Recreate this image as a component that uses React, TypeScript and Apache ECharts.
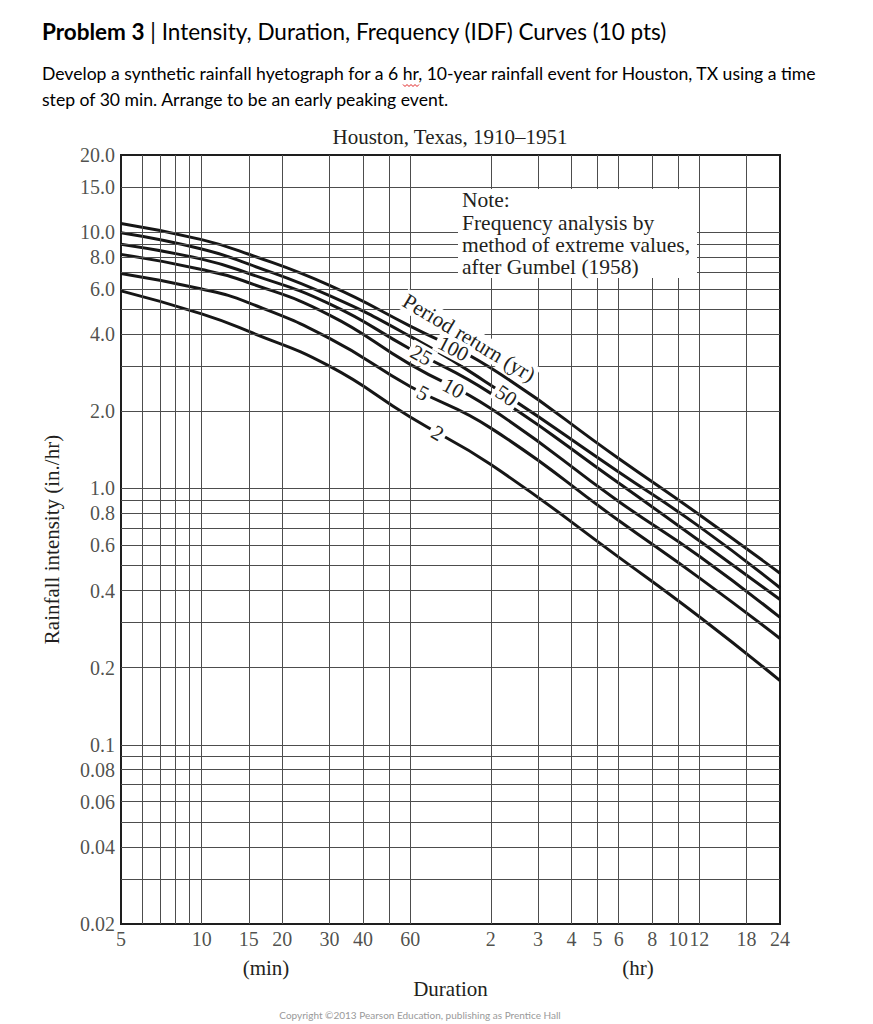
import React, { useEffect, useRef } from 'react';
import * as echarts from 'echarts';

// ---- data (durations in minutes, intensities in in./hr) ----
const durations = [5, 10, 15, 30, 60, 120, 360, 720, 1440];
const returnPeriods = ['2', '5', '10', '25', '50', '100'];
const intensity2 = [5.9, 4.8, 4.1, 3.0, 1.9, 1.24, 0.54, 0.316, 0.178];
const intensity5 = [6.9, 6.0, 5.3, 3.85, 2.5, 1.72, 0.75, 0.448, 0.26];
const intensity10 = [8.19, 7.15, 6.35, 4.75, 3.05, 2.05, 0.89, 0.544, 0.314];
const intensity25 = [8.98, 7.85, 6.9, 5.25, 3.5, 2.35, 1.05, 0.625, 0.369];
const intensity50 = [9.95, 8.6, 7.5, 5.65, 3.92, 2.53, 1.16, 0.71, 0.41];
const intensity100 = [10.8, 9.35, 8.2, 6.2, 4.3, 2.95, 1.31, 0.79, 0.467];
const allIntensities = [intensity2, intensity5, intensity10, intensity25, intensity50, intensity100];

// duration (min) along each curve where its return-period label sits
const curveLabelAt = [76, 67, 87, 66, 137, 87];

const xTickValues = [5, 10, 15, 20, 30, 40, 60, 120, 180, 240, 300, 360, 480, 600, 720, 1080, 1440];
const xTickLabels = ['5', '10', '15', '20', '30', '40', '60', '2', '3', '4', '5', '6', '8', '10', '12', '18', '24'];
const yTickValues = [20, 15, 10, 8, 6, 4, 2, 1, 0.8, 0.6, 0.4, 0.2, 0.1, 0.08, 0.06, 0.04, 0.02];
const yTickLabels = ['20.0', '15.0', '10.0', '8.0', '6.0', '4.0', '2.0', '1.0', '0.8', '0.6', '0.4', '0.2', '0.1', '0.08', '0.06', '0.04', '0.02'];
const xGridValues = [6, 7, 8, 9, 10, 15, 20, 30, 40, 50, 60, 120, 180, 240, 300, 360, 480, 600, 720, 1080];
const yGridValues = [15, 10, 9, 8, 7, 6, 5, 4, 3, 2, 1, 0.9, 0.8, 0.7, 0.6, 0.5, 0.4, 0.3, 0.2, 0.1, 0.09, 0.08, 0.07, 0.06, 0.05, 0.04, 0.03];

const X_MIN = 5;
const X_MAX = 1440;
const Y_MIN = 0.02;
const Y_MAX = 20;

const SERIF = '"Liberation Serif", "Times New Roman", serif';
const SANS = 'Lato, "Liberation Sans", sans-serif';
const INK = '#231f20';

function valueAt(vals: number[], d: number): number {
  for (let i = 0; i < durations.length - 1; i++) {
    if (d >= durations[i] && d <= durations[i + 1]) {
      const t = Math.log(d / durations[i]) / Math.log(durations[i + 1] / durations[i]);
      return Math.exp(Math.log(vals[i]) + t * (Math.log(vals[i + 1]) - Math.log(vals[i])));
    }
  }
  return vals[vals.length - 1];
}

export default function App() {
  const ref = useRef<HTMLDivElement>(null);

  useEffect(() => {
    if (!ref.current) return;
    const chart = echarts.init(ref.current, null, { renderer: 'svg' });

    const curveSeries = allIntensities.map((vals, i) => ({
      name: returnPeriods[i] + '-yr',
      type: 'line',
      data: durations.map((d, j) => [d, vals[j]]),
      showSymbol: false,
      smooth: 0.5,
      lineStyle: { color: '#161616', width: 3 },
      z: 3,
      silent: true,
    }));

    const option: any = {
      animation: false,
      backgroundColor: '#ffffff',
      textStyle: { fontFamily: SERIF },
      grid: {
        left: 121,
        right: 93,
        top: 155,
        bottom: 100,
        show: true,
        borderColor: '#1e1e1e',
        borderWidth: 2,
        backgroundColor: 'transparent',
        containLabel: false,
        outerBoundsMode: 'none',
      },
      xAxis: {
        type: 'log',
        logBase: 10,
        min: X_MIN,
        max: X_MAX,
        name: 'Duration',
        nameLocation: 'middle',
        nameGap: 54,
        nameTextStyle: { fontSize: 21, color: INK, fontFamily: SERIF },
        axisLine: { show: false },
        axisTick: { show: false },
        axisLabel: { show: false },
        splitLine: { show: false },
      },
      yAxis: {
        type: 'log',
        logBase: 10,
        min: Y_MIN,
        max: Y_MAX,
        name: 'Rainfall intensity (in./hr)',
        nameLocation: 'middle',
        nameGap: 59,
        nameRotate: 90,
        nameTextStyle: { fontSize: 21, color: INK, fontFamily: SERIF },
        axisLine: { show: false },
        axisTick: { show: false },
        axisLabel: { show: false },
        splitLine: { show: false },
      },
      series: [
        {
          name: 'grid',
          type: 'line',
          data: [],
          z: 1,
          silent: true,
          markLine: {
            silent: true,
            symbol: ['none', 'none'],
            animation: false,
            label: { show: false },
            emphasis: { disabled: true },
            lineStyle: { color: '#4d4d4d', width: 1, type: 'solid' },
            data: [
              ...xGridValues.map((v) => ({ xAxis: v })),
              ...yGridValues.map((v) => ({ yAxis: v })),
            ],
          },
        },
        ...curveSeries,
        {
          name: 'xTicks',
          type: 'scatter',
          data: xTickValues.map((v) => [v, Y_MIN]),
          symbolSize: 0,
          clip: false,
          silent: true,
          z: 5,
          itemStyle: { color: 'transparent' },
          label: {
            show: true,
            position: 'bottom',
            distance: 5,
            fontFamily: SERIF,
            fontSize: 20,
            color: INK,
            formatter: (p: any) => xTickLabels[p.dataIndex],
          },
        },
        {
          name: 'yTicks',
          type: 'scatter',
          data: yTickValues.map((v) => [X_MIN, v]),
          symbolSize: 0,
          clip: false,
          silent: true,
          z: 5,
          itemStyle: { color: 'transparent' },
          label: {
            show: true,
            position: 'left',
            distance: 6,
            fontFamily: SERIF,
            fontSize: 20,
            color: INK,
            formatter: (p: any) => yTickLabels[p.dataIndex],
          },
        },
      ],
    };

    chart.setOption(option);

    const px = (d: number, v: number) => chart.convertToPixel({ gridIndex: 0 }, [d, v]) as number[];

    const curveLabels = allIntensities.map((vals, i) => {
      const d = curveLabelAt[i];
      const p = px(d, valueAt(vals, d));
      const a = px(d * 0.85, valueAt(vals, d * 0.85));
      const b = px(d * 1.15, valueAt(vals, d * 1.15));
      const ang = Math.atan2(b[1] - a[1], b[0] - a[0]);
      return {
        type: 'text',
        x: p[0],
        y: p[1],
        rotation: -ang,
        z: 100,
        style: {
          text: returnPeriods[i],
          fontFamily: SERIF,
          fontSize: 21,
          fill: INK,
          align: 'center',
          verticalAlign: 'middle',
          backgroundColor: '#ffffff',
          padding: [0, 3],
        },
      };
    });

    // measure for the spell-check squiggle under "hr"
    const HEAD = 22.5;
    const BODY = 17.6;
    let preW = 370;
    let hrW = 18;
    const cv = document.createElement('canvas').getContext('2d');
    if (cv) {
      cv.font = `${BODY}px Lato`;
      preW = cv.measureText('Develop a synthetic rainfall hyetograph for a 6 ').width;
      hrW = cv.measureText('hr').width;
    }
    const squiggle: number[][] = [];
    for (let k = 0, xx = 42 + preW; xx <= 42 + preW + hrW + 0.5; k++, xx += 2) {
      squiggle.push([xx, k % 2 === 0 ? 84.5 : 86.5]);
    }

    const graphics: any[] = [
      {
        type: 'text',
        x: 42,
        y: 31,
        z: 100,
        style: {
          text: '{b|Problem 3} | Intensity, Duration, Frequency (IDF) Curves (10 pts)',
          fontFamily: SANS,
          fontSize: HEAD,
          fill: '#000',
          verticalAlign: 'middle',
          rich: { b: { fontFamily: SANS, fontSize: HEAD, fontWeight: 'bold', fill: '#000' } },
        },
      },
      {
        type: 'text',
        x: 42,
        y: 73,
        z: 100,
        style: {
          text: 'Develop a synthetic rainfall hyetograph for a 6 hr, 10-year rainfall event for Houston, TX using a time',
          fontFamily: SANS,
          fontSize: BODY,
          fill: '#000',
          verticalAlign: 'middle',
        },
      },
      {
        type: 'text',
        x: 42,
        y: 99,
        z: 100,
        style: {
          text: 'step of 30 min. Arrange to be an early peaking event.',
          fontFamily: SANS,
          fontSize: BODY,
          fill: '#000',
          verticalAlign: 'middle',
        },
      },
      {
        type: 'polyline',
        z: 100,
        shape: { points: squiggle },
        style: { stroke: '#e02020', lineWidth: 1, fill: null },
      },
      {
        type: 'text',
        x: 450,
        y: 137,
        z: 100,
        style: {
          text: 'Houston, Texas, 1910\u20131951',
          fontFamily: SERIF,
          fontSize: 21,
          fill: INK,
          align: 'center',
          verticalAlign: 'middle',
        },
      },
      {
        type: 'rect',
        z: 99,
        shape: { x: 458, y: 189, width: 239, height: 89 },
        style: { fill: '#ffffff' },
      },
      {
        type: 'text',
        x: 462,
        y: 189,
        z: 100,
        style: {
          text: 'Note:\nFrequency analysis by\nmethod of extreme values,\nafter Gumbel (1958)',
          fontFamily: SERIF,
          fontSize: 21.5,
          lineHeight: 22.4,
          fill: INK,
          align: 'left',
          verticalAlign: 'top',
        },
      },
      {
        type: 'text',
        x: 469,
        y: 338,
        rotation: (-31 * Math.PI) / 180,
        z: 100,
        style: {
          text: 'Period return (yr)',
          fontFamily: SERIF,
          fontSize: 21.5,
          fill: INK,
          align: 'center',
          verticalAlign: 'middle',
          backgroundColor: '#ffffff',
          padding: [0, 2],
        },
      },
      {
        type: 'text',
        x: 266,
        y: 968,
        z: 100,
        style: { text: '(min)', fontFamily: SERIF, fontSize: 21, fill: INK, align: 'center', verticalAlign: 'middle' },
      },
      {
        type: 'text',
        x: 638,
        y: 968,
        z: 100,
        style: { text: '(hr)', fontFamily: SERIF, fontSize: 21, fill: INK, align: 'center', verticalAlign: 'middle' },
      },
      {
        type: 'text',
        x: 420,
        y: 1010,
        z: 100,
        style: {
          text: 'Copyright \u00a92013 Pearson Education, publishing as Prentice Hall',
          fontFamily: SANS,
          fontSize: 10,
          fill: '#999',
          align: 'center',
          verticalAlign: 'top',
        },
      },
      ...curveLabels,
    ];

    chart.setOption({ graphic: graphics });

    return () => chart.dispose();
  }, []);

  return (
    <div
      ref={ref}
      style={{ position: 'absolute', left: 0, top: 0, width: 873, height: 1024, background: '#fff' }}
    />
  );
}
